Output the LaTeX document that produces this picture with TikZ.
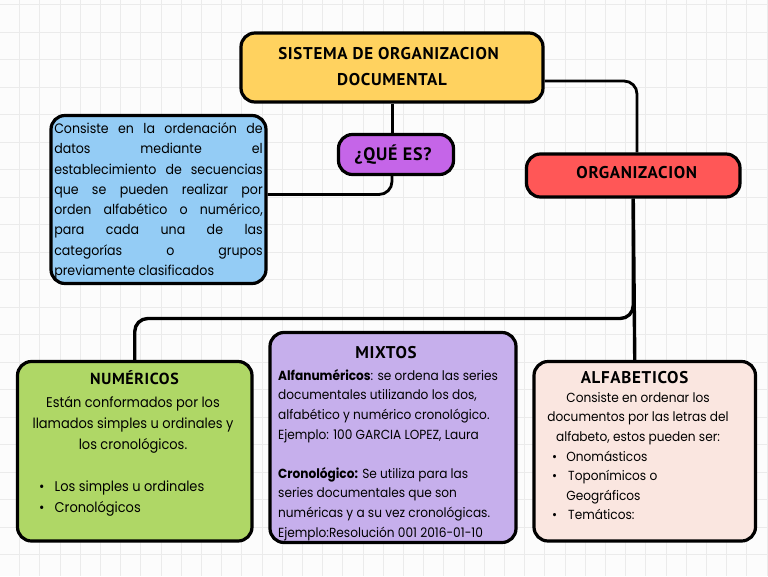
\documentclass[tikz,border=0pt]{standalone}
\usepackage{fontspec}
\setmainfont[FakeStretch=0.92]{Poppins}
\newfontfamily\headfont[LetterSpace=4]{PT Sans}
\definecolor{titlecol}{HTML}{FFD25F}
\definecolor{quecol}{HTML}{C565E8}
\definecolor{orgcol}{HTML}{FF5757}
\definecolor{defcol}{HTML}{94CCF5}
\definecolor{numcol}{HTML}{AFD766}
\definecolor{mixcol}{HTML}{C6AFEC}
\definecolor{alfcol}{HTML}{FAE6E0}
\tikzset{
  box/.style={draw,line width=3.2pt,rounded corners=14pt,inner sep=0pt},
  link/.style={line width=2.8pt,rounded corners=13pt},
  gridline/.style={draw=black!8,line width=0.6pt},
  headtext/.style={font=\headfont\bfseries\fontsize{17}{26}\selectfont,align=center,inner sep=0pt},
  bodytext/.style={font=\fontsize{13.2}{19.6}\selectfont,inner sep=0pt},
}
\newcommand{\bul}[1]{\makebox[12pt][l]{\textbullet}#1}
\begin{document}
\begin{tikzpicture}[x=1pt,y=-1pt]
\useasboundingbox (0,0) rectangle (768,576);
\fill[white!99!black] (0,0) rectangle (768,576);
% grid
\foreach \gx in {0,...,37} \draw[gridline] ({19.5+\gx*20.2},0) -- ++(0,576);
\foreach \gy in {0,...,20} \draw[gridline] (0,{4.5+\gy*27.5}) -- ++(768,0);
% boxes
\node[box,fill=titlecol,minimum width=302pt,minimum height=69pt,font=\headfont\bfseries\fontsize{17}{26}\selectfont,align=center] (title) at (392,67.5) {SISTEMA DE ORGANIZACION\hspace*{7pt}\\DOCUMENTAL\vspace{2pt}};
\node[box,fill=quecol,minimum width=115pt,minimum height=40pt,font=\headfont\bfseries\fontsize{18}{26}\selectfont] (que) at (396,154.5) {¿QUÉ ES?\hspace*{6pt}};
\node[box,fill=orgcol,minimum width=213.5pt,minimum height=43pt,font=\headfont\bfseries\fontsize{17}{26}\selectfont] (org) at (633.25,175.5) {\hspace*{7pt}\raisebox{6pt}{ORGANIZACION}};
\node[box,fill=defcol,minimum width=215pt,minimum height=168pt,text width=208.5pt,align=justify,font=\fontsize{13.7}{20.3}\selectfont] (def) at (158.5,199.5) {\rule{0pt}{13.5pt}Consiste en la ordenación de\linebreak datos mediante el\linebreak establecimiento de secuencias\linebreak que se pueden realizar por\linebreak orden alfabético o numérico,\linebreak para cada una de las\linebreak categorías o grupos\linebreak previamente clasificados};
\node[box,fill=numcol,minimum width=234.5pt,minimum height=179.5pt] (num) at (134.75,451.25) {};
\node[box,fill=mixcol,minimum width=246pt,minimum height=210pt] (mix) at (393,437.5) {};
\node[box,fill=alfcol,minimum width=221.5pt,minimum height=179.5pt] (alf) at (644.75,451.25) {};
% connectors
\coordinate (bus) at (134.75,318.5);
\draw[link,line width=3pt] (title.south) -- (title.south |- que.north);
\draw[link] (title.south |- que.south) |- ([yshift=5pt]def.east);
\draw[link] ([yshift=-13.5pt]title.east) -| ([xshift=3.75pt]org.north);
\draw[link,line width=3.4pt] (org.south) -- ([xshift=-10pt]alf.north);
\draw[link,line width=3.4pt] (org.south) |- (bus) -- (num.north);
% texts of the green box
\node[headtext,font=\headfont\bfseries\fontsize{16}{26}\selectfont] (numhead) at (134.5,378) {NUMÉRICOS};
\node[bodytext,font=\fontsize{14.1}{21}\selectfont,align=center,anchor=north] (numbody) at (133,396) {Están conformados por los\\llamados simples u ordinales y\\los cronológicos.};
\node[bodytext,font=\fontsize{14.1}{21}\selectfont,align=left,anchor=north west] (numlist) at (39,481) {\bul{ Los simples u ordinales}\\\bul{ Cronológicos}};
% texts of the lilac box
\node[headtext] (mixhead) at (386,353) {MIXTOS};
\node[bodytext,align=left,anchor=north west] (mixbody) at (278,369) {\textbf{Alfanuméricos}: se ordena las series\\documentales utilizando los dos,\\alfabético y numérico cronológico.\\Ejemplo: 100 GARCIA LOPEZ, Laura\\[19.6pt]\textbf{Cronológico:} Se utiliza para las\\series documentales que son\\numéricas y a su vez cronológicas.\\Ejemplo:Resolución 001 2016-01-10};
% texts of the pink box
\node[headtext] (alfhead) at (634.5,377.5) {ALFABETICOS};
\node[bodytext,align=center,anchor=north] (alfbody) at (638,392) {Consiste en ordenar los\\documentos por las letras del\\alfabeto, estos pueden ser:};
\node[bodytext,align=left,anchor=north west] (alflist) at (552,450.5) {\bul{\,Onomásticos}\\\bul{\hspace{4pt}Toponímicos o}\\\makebox[12pt][l]{}\,Geográficos\\\bul{\hspace{4pt}Temáticos:}};
\end{tikzpicture}
\end{document}
